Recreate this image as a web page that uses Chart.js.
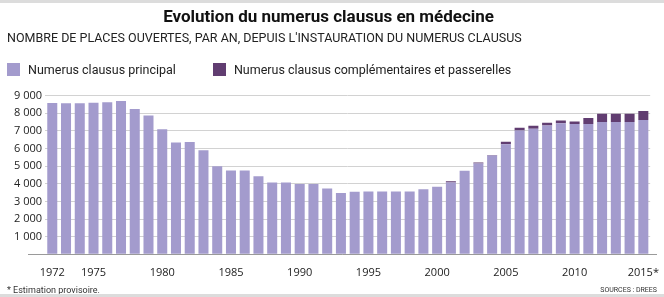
<!DOCTYPE html>
<html>
<head>
<meta charset="utf-8">
<script src="https://cdn.jsdelivr.net/npm/chart.js@4"></script>
<style>
  body { margin: 0; background: #fff; }
  #wrap { position: relative; width: 664px; height: 297px; overflow: hidden; }
  #wrap canvas { position: absolute; left: 0; top: 0; }
  .rule { position: absolute; left: 0; width: 664px; background: #dcdcdc; }
  #legend { position: absolute; left: 7px; top: 62.5px; display: flex; font: 12.5px 'Roboto', sans-serif; color: #222; }
  #legend .item { display: flex; align-items: center; height: 13px; }
  #legend .box { width: 13px; height: 13px; margin-right: 8px; }
  .note { position: absolute; top: 285px; font-family: 'Roboto', sans-serif; color: #333; }
</style>
</head>
<body>
<div id="wrap">
  <div class="rule" style="top:0;height:3px"></div>
  <canvas id="chart" width="664" height="297"></canvas>
  <div id="legend"></div>
  <div class="note" style="left:7px;font-size:9px">* Estimation provisoire.</div>
  <div class="note" style="right:7px;font-size:7px;top:286px">SOURCES : DREES</div>
  <div class="rule" style="top:294px;height:3px"></div>
</div>
<script>
const years = ['1972','1973','1974','1975','1976','1977','1978','1979','1980','1981',
  '1982','1983','1984','1985','1986','1987','1988','1989','1990','1991',
  '1992','1993','1994','1995','1996','1997','1998','1999','2000','2001',
  '2002','2003','2004','2005','2006','2007','2008','2009','2010','2011',
  '2012','2013','2014','2015'];

const principal = [8590,8570,8570,8600,8630,8700,8250,7870,7100,6350,
  6370,5900,5000,4750,4750,4430,4080,4080,3990,3990,
  3740,3480,3550,3570,3570,3570,3570,3690,3840,4080,
  4740,5150,5600,6250,7030,7120,7310,7430,7400,7400,
  7510,7510,7510,7620];

const complementaires = [0,0,0,0,0,0,0,0,0,0,
  0,0,0,0,0,0,0,0,0,0,
  0,0,0,0,0,0,0,0,0,60,
  0,60,40,140,150,170,150,160,130,340,
  470,470,470,510];

const tickYears = ['1972','1975','1980','1985','1990','1995','2000','2005','2010','2015'];
const tickLabels = ['1972','1975','1980','1985','1990','1995','2000','2005','2010','2015*'];

const headFont = "'Roboto', sans-serif";
const tickFont = "'Open Sans', sans-serif";

// ligne de base grise qui déborde un peu de la zone du graphique
const baseLine = {
  id: 'baseLine',
  afterDatasetsDraw(chart) {
    const ctx = chart.ctx;
    const y = Math.round(chart.scales.y.getPixelForValue(0)) + 0.5;
    ctx.save();
    ctx.strokeStyle = '#9a9a9a';
    ctx.lineWidth = 1;
    ctx.beginPath();
    ctx.moveTo(28, y);
    ctx.lineTo(657, y);
    ctx.stroke();
    ctx.restore();
  }
};

const chart = new Chart(document.getElementById('chart'), {
  type: 'bar',
  data: {
    labels: years,
    datasets: [
      {
        label: 'Numerus clausus principal',
        data: principal,
        backgroundColor: '#a39bcd',
        barPercentage: 0.9,
        categoryPercentage: 0.81
      },
      {
        label: 'Numerus clausus complémentaires et passerelles',
        data: complementaires,
        backgroundColor: '#613d71',
        barPercentage: 0.9,
        categoryPercentage: 0.81
      }
    ]
  },
  options: {
    responsive: false,
    animation: false,
    layout: { padding: { left: 7, right: 13.8, top: 0, bottom: 0 } },
    plugins: {
      legend: { display: false },
      tooltip: { enabled: false },
      title: {
        display: true,
        text: 'Evolution du numerus clausus en médecine',
        color: '#111',
        font: { family: headFont, size: 17, weight: 'bold', lineHeight: 1.2 },
        padding: { top: 7.8, bottom: 0 }
      },
      subtitle: {
        display: true,
        text: "NOMBRE DE PLACES OUVERTES, PAR AN, DEPUIS L'INSTAURATION DU NUMERUS CLAUSUS",
        align: 'start',
        color: '#222',
        font: { family: headFont, size: 12.5, lineHeight: 1.2 },
        padding: { top: 3.3, bottom: 49.2 }
      }
    },
    scales: {
      x: {
        stacked: true,
        grid: { display: false },
        border: { display: false },
        ticks: {
          autoSkip: false,
          maxRotation: 0,
          padding: 4,
          color: '#222',
          font: { family: tickFont, size: 11 },
          callback: function(value) {
            const i = tickYears.indexOf(this.getLabelForValue(value));
            return i >= 0 ? tickLabels[i] : '';
          }
        },
        afterFit(scale) { scale.height = 42.7; }
      },
      y: {
        stacked: true,
        min: 0,
        max: 9000,
        grid: { color: '#d2d2d2', lineWidth: 1, drawTicks: false },
        border: { display: false },
        ticks: {
          stepSize: 1000,
          padding: 3.4,
          color: '#222',
          font: { family: tickFont, size: 11 },
          callback: v => v === 0 ? '' : v.toLocaleString('fr-FR').replace(/\s/g, ' ')
        },
        afterFit(scale) { scale.width = 38.4; }
      }
    }
  },
  plugins: [baseLine]
});

// légende HTML construite à partir des jeux de données
const legendBox = document.getElementById('legend');
chart.data.datasets.forEach((ds, i) => {
  const item = document.createElement('div');
  item.className = 'item';
  item.style.marginRight = i === 0 ? '37px' : '0';
  item.innerHTML = '<span class="box" style="background:' + ds.backgroundColor + '"></span>' + ds.label;
  legendBox.appendChild(item);
});
</script>
</body>
</html>
